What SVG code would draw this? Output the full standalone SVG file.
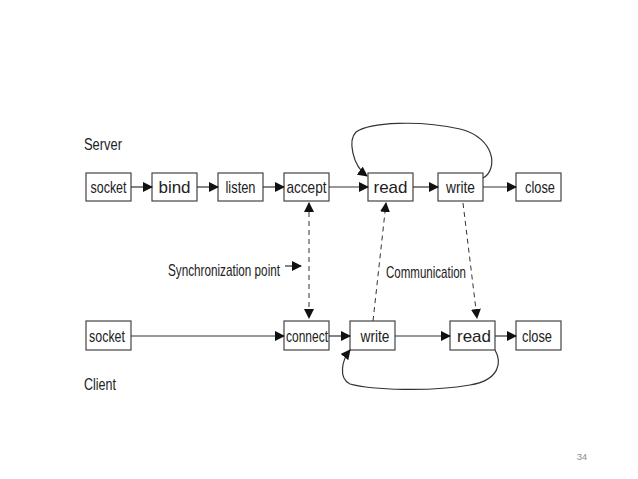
<svg xmlns="http://www.w3.org/2000/svg" width="638" height="479" viewBox="0 0 638 479">
<defs>
<style>
.b rect{fill:#fff;stroke:#444;stroke-width:1.2}
text{font-family:"Liberation Sans",Arial,sans-serif;font-size:17px;fill:#222;font-stretch:condensed}
.c{stroke:#333;stroke-width:1.2;fill:none}
.d{stroke:#333;stroke-width:1;fill:none;stroke-dasharray:5,4}
</style>
<marker id="a" markerWidth="10" markerHeight="10" refX="9" refY="5" orient="auto" markerUnits="userSpaceOnUse"><path d="M0,0L10,5L0,10z" fill="#111"/></marker>
<marker id="s" markerWidth="10" markerHeight="10" refX="1" refY="5" orient="auto" markerUnits="userSpaceOnUse"><path d="M10,0L0,5L10,10z" fill="#111"/></marker>
</defs>
<rect width="638" height="479" fill="#fff"/>
<text x="84" y="150" textLength="38" lengthAdjust="spacingAndGlyphs">Server</text>
<text x="84" y="390" textLength="32" lengthAdjust="spacingAndGlyphs">Client</text>
<text x="168" y="276" textLength="112" lengthAdjust="spacingAndGlyphs">Synchronization point</text>
<text x="386" y="278" textLength="80" lengthAdjust="spacingAndGlyphs">Communication</text>
<text x="577" y="460" style="font-size:9px;fill:#888">34</text>
<g id="s_socket" class="b"><rect x="86" y="173" width="45" height="28"/><text x="108.5" y="193" text-anchor="middle" textLength="36" lengthAdjust="spacingAndGlyphs">socket</text></g>
<g id="s_bind" class="b"><rect x="152" y="173" width="45" height="28"/><text x="174.5" y="193" text-anchor="middle">bind</text></g>
<g id="s_listen" class="b"><rect x="218" y="173" width="45" height="28"/><text x="240.5" y="193" text-anchor="middle" textLength="30" lengthAdjust="spacingAndGlyphs">listen</text></g>
<g id="s_accept" class="b"><rect x="284" y="173" width="45" height="28"/><text x="306.5" y="193" text-anchor="middle" textLength="40" lengthAdjust="spacingAndGlyphs">accept</text></g>
<g id="s_read" class="b"><rect x="368" y="173" width="45" height="28"/><text x="390.5" y="193" text-anchor="middle">read</text></g>
<g id="s_write" class="b"><rect x="438" y="173" width="45" height="28"/><text x="460.5" y="193" text-anchor="middle" textLength="29" lengthAdjust="spacingAndGlyphs">write</text></g>
<g id="s_close" class="b"><rect x="516" y="173" width="45" height="28"/><text x="540" y="193" text-anchor="middle" textLength="30" lengthAdjust="spacingAndGlyphs">close</text></g>
<g id="c_socket" class="b"><rect x="86" y="321" width="45" height="29"/><text x="107" y="342" text-anchor="middle" textLength="36" lengthAdjust="spacingAndGlyphs">socket</text></g>
<g id="c_connect" class="b"><rect x="284" y="321" width="45" height="29"/><text x="307" y="342" text-anchor="middle" textLength="42" lengthAdjust="spacingAndGlyphs">connect</text></g>
<g id="c_write" class="b"><rect x="350" y="321" width="45" height="29"/><text x="375" y="342" text-anchor="middle" textLength="29" lengthAdjust="spacingAndGlyphs">write</text></g>
<g id="c_read" class="b"><rect x="450" y="321" width="45" height="29"/><text x="474" y="342" text-anchor="middle">read</text></g>
<g id="c_close" class="b"><rect x="516" y="321" width="45" height="29"/><text x="537" y="342" text-anchor="middle" textLength="30" lengthAdjust="spacingAndGlyphs">close</text></g>
<g id="connectors">
<path class="c" marker-end="url(#a)" d="M131,187H152"/>
<path class="c" marker-end="url(#a)" d="M197,187H218"/>
<path class="c" marker-end="url(#a)" d="M263,187H284"/>
<path class="c" marker-end="url(#a)" d="M329,187H368"/>
<path class="c" marker-end="url(#a)" d="M413,187H438"/>
<path class="c" marker-end="url(#a)" d="M483,187H516"/>
<path class="c" marker-end="url(#a)" d="M131,336H284"/>
<path class="c" marker-end="url(#a)" d="M329,336H350"/>
<path class="c" marker-end="url(#a)" d="M395,336H450"/>
<path class="c" marker-end="url(#a)" d="M495,336H516"/>
<path class="c" marker-end="url(#a)" d="M285,266H301"/>
<path class="d" marker-start="url(#s)" marker-end="url(#a)" d="M309,203V318"/>
<path class="d" marker-end="url(#a)" d="M373,321L386,203"/>
<path class="d" marker-end="url(#a)" d="M463,203L477,318"/>
<path class="c" marker-end="url(#a)" d="M483,178C498,170 496,138 460,129C420,120 370,122 356,132C348,140 352,165 367,176"/>
<path class="c" marker-end="url(#a)" d="M495,350C502,362 500,380 470,385C430,392 372,390 350,384C338,378 342,360 350,350"/>
</g>
</svg>
